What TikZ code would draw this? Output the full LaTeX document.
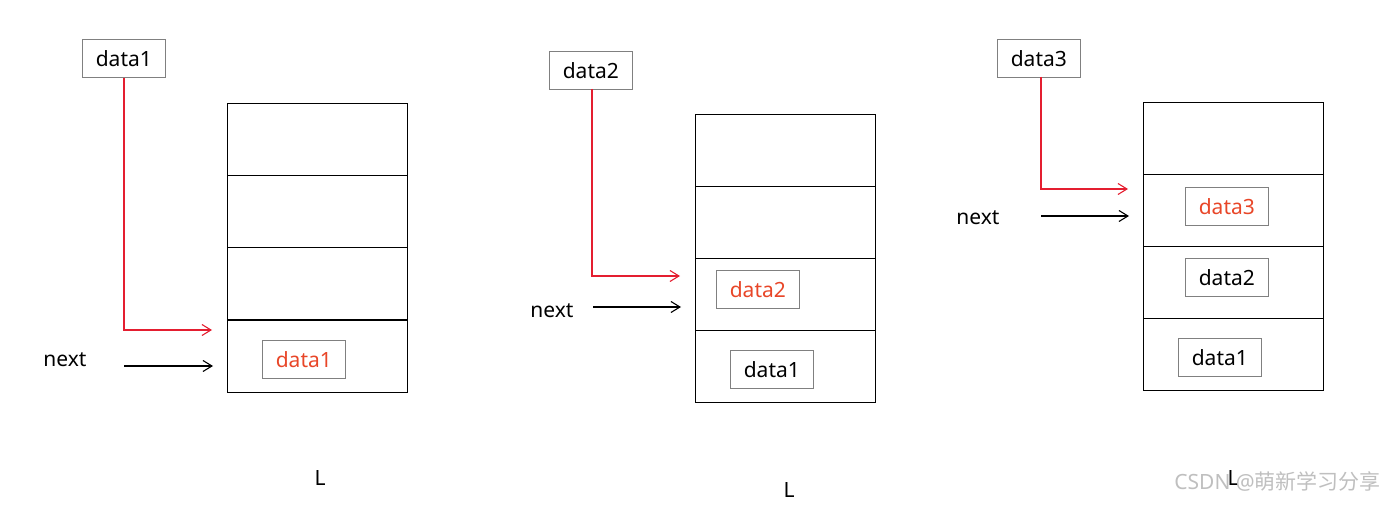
\documentclass[tikz,border=0pt]{standalone}
\usepackage{fontspec}
\usetikzlibrary{arrows.meta}
\setmainfont{Noto Sans}
\newfontfamily\cjk{Noto Sans CJK SC}
\definecolor{myred}{RGB}{228,30,48}
\definecolor{txtred}{RGB}{232,70,40}
\begin{document}
\begin{tikzpicture}[x=1pt,y=-1pt,
  cell/.style={draw,line width=1.3pt,minimum width=180pt,minimum height=72pt,inner sep=0pt,anchor=north west},
  lbl/.style={draw=gray,line width=0.7pt,minimum width=83pt,minimum height=38pt,inner sep=0pt,anchor=north west,font=\fontsize{21}{24}\selectfont},
  red lbl/.style={lbl,text=txtred},
  txt/.style={font=\fontsize{21}{24}\selectfont},
  rarr/.style={myred,line width=1.1pt,-{Straight Barb[length=9pt,width=11pt]}},
  barr/.style={black,line width=1.1pt,-{Straight Barb[length=9pt,width=11pt]}}]
\useasboundingbox (0,0) rectangle (1385,505);
% stack 1
\foreach \i/\y in {1/103,2/175,3/247,4/320} \node[cell] (a\i) at (227,\y) {};
\node[lbl] (d1) at (82,39) {data1};
\node[red lbl] (a4d) at (262,340) {data1};
\coordinate (r1) at (212,330);
\draw[rarr] (124,78) |- (r1);
\node[txt] (n1) at (65,360) {next};
\coordinate (n1s) at (124,366); \coordinate (n1e) at (213,366);
\draw[barr] (n1s) -- (n1e);
\node[txt] (L1) at (320,478) {L};
% stack 2
\foreach \i/\y in {1/114,2/186,3/258,4/330} \node[cell] (b\i) at (695,\y) {};
\node[lbl] (d2) at (549,51) {data2};
\node[red lbl] (b3d) at (716,270) {data2};
\node[lbl] (b4d) at (730,350) {data1};
\coordinate (r2) at (680,276);
\draw[rarr] (592,89) |- (r2);
\node[txt] (n2) at (552,311) {next};
\coordinate (n2s) at (593,307); \coordinate (n2e) at (681,307);
\draw[barr] (n2s) -- (n2e);
\node[txt] (L2) at (789,490) {L};
% stack 3
\foreach \i/\y in {1/102,2/174,3/246,4/318} \node[cell] (c\i) at (1143,\y) {};
\node[lbl] (d3) at (997,39) {data3};
\node[red lbl] (c2d) at (1185,187) {data3};
\node[lbl] (c3d) at (1185,258) {data2};
\node[lbl] (c4d) at (1178,338) {data1};
\coordinate (r3) at (1128,189);
\draw[rarr] (1041,77) |- (r3);
\node[txt] (n3) at (978,218) {next};
\coordinate (n3s) at (1041,216); \coordinate (n3e) at (1129,216);
\draw[barr] (n3s) -- (n3e);
\node[txt] (L3) at (1233,478) {L};
\node[text=gray!50,anchor=east,inner sep=0pt,font=\fontsize{21}{24}\selectfont] (wm) at (1381,482) {CSDN @{\cjk 萌新学习分享}};
\end{tikzpicture}
\end{document}
